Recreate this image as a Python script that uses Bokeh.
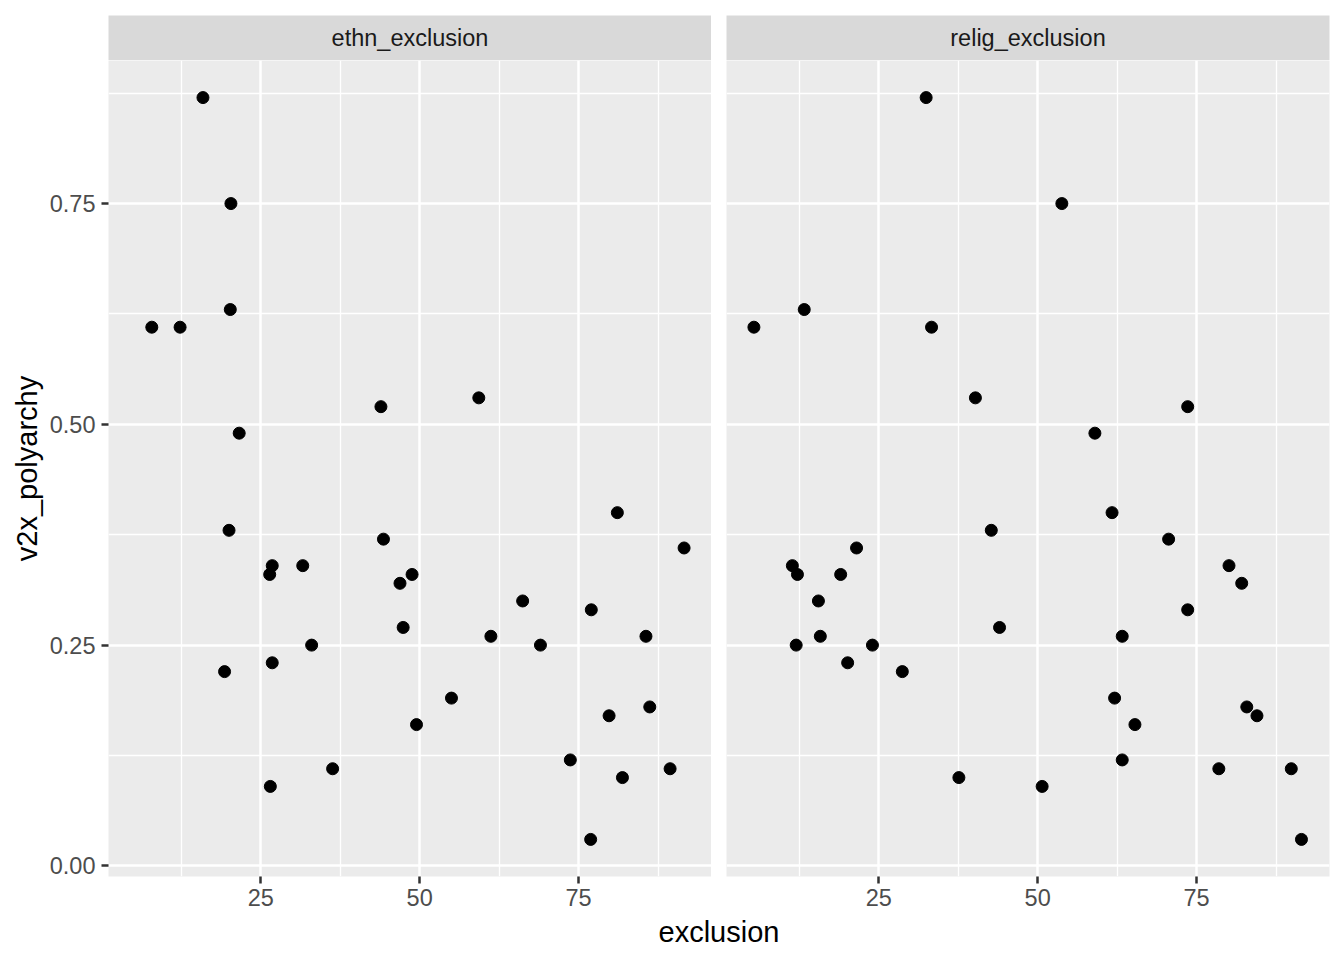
from bokeh.plotting import figure
from bokeh.layouts import column, row
from bokeh.models import FixedTicker, NumeralTickFormatter, Label, Range1d
from bokeh.embed import file_html
from bokeh.resources import INLINE

# facet names and the points of each facet
facets = ["ethn_exclusion", "relig_exclusion"]

ethn_exclusion = [15.9, 20.3, 20.2, 7.85, 12.3, 43.9, 21.6, 20.0, 44.3, 26.8,
                  26.4, 31.6, 48.8, 46.9, 47.4, 33.0, 26.8, 19.3, 49.5, 36.3,
                  26.5, 59.3, 81.1, 91.6, 66.2, 77.0, 61.2, 69.0, 85.6, 55.0,
                  79.8, 86.2, 73.7, 81.9, 89.4, 76.9]
ethn_polyarchy = [0.87, 0.75, 0.63, 0.61, 0.61, 0.52, 0.49, 0.38, 0.37, 0.34,
                  0.33, 0.34, 0.33, 0.32, 0.27, 0.25, 0.23, 0.22, 0.16, 0.11,
                  0.09, 0.53, 0.40, 0.36, 0.30, 0.29, 0.26, 0.25, 0.26, 0.19,
                  0.17, 0.18, 0.12, 0.10, 0.11, 0.03]

relig_exclusion = [32.45, 5.35, 13.27, 33.3, 40.2, 53.8, 59.0, 73.6, 42.7, 21.5,
                   11.4, 12.2, 19.0, 15.5, 44.0, 15.8, 12.0, 24.0, 20.1, 28.7,
                   37.6, 61.7, 70.6, 80.1, 82.1, 73.6, 63.3, 62.1, 65.3, 82.9,
                   84.5, 63.3, 78.5, 89.9, 50.7, 91.5]
relig_polyarchy = [0.87, 0.61, 0.63, 0.61, 0.53, 0.75, 0.49, 0.52, 0.38, 0.36,
                   0.34, 0.33, 0.33, 0.30, 0.27, 0.26, 0.25, 0.25, 0.23, 0.22,
                   0.10, 0.40, 0.37, 0.34, 0.32, 0.29, 0.26, 0.19, 0.16, 0.18,
                   0.17, 0.12, 0.11, 0.11, 0.09, 0.03]

x_ticks = [25, 50, 75]
x_minor = [12.5, 37.5, 62.5, 87.5]
y_ticks = [0.0, 0.25, 0.5, 0.75]
y_minor = [0.125, 0.375, 0.625, 0.875]

FONT = "Liberation Sans"
PANEL_W, PANEL_H = 603, 816


def expand(vals, mult=0.05):
    # ggplot style 5% padding
    lo, hi = min(vals), max(vals)
    pad = (hi - lo) * mult
    return lo - pad, hi + pad


xr = Range1d(*expand(ethn_exclusion + relig_exclusion))
yr = Range1d(*expand(ethn_polyarchy + relig_polyarchy))


def strip(name, left, right):
    s = figure(
        frame_width=PANEL_W,
        frame_height=45,
        x_range=(0, 1),
        y_range=(0, 1),
        x_axis_location=None,
        y_axis_location=None,
        min_border_left=left,
        min_border_right=right,
        min_border_top=15,
        min_border_bottom=0,
        background_fill_color="#D9D9D9",
        outline_line_color=None,
        output_backend="svg",
        toolbar_location=None,
    )
    s.grid.visible = False
    s.add_layout(
        Label(
            x=0.5,
            y=0.5,
            text=name,
            text_align="center",
            text_baseline="middle",
            text_font=FONT,
            text_font_size="23.5px",
            text_color="#1A1A1A",
        )
    )
    return s


def panel(xs, ys, with_yaxis):
    p = figure(
        frame_width=PANEL_W,
        frame_height=PANEL_H,
        x_range=xr,
        y_range=yr,
        y_axis_location="left" if with_yaxis else None,
        min_border_left=108 if with_yaxis else 15,
        min_border_right=0 if with_yaxis else 15,
        min_border_top=0,
        min_border_bottom=36,
        background_fill_color="#EBEBEB",
        outline_line_color=None,
        output_backend="svg",
        toolbar_location=None,
    )
    p.xgrid.ticker = FixedTicker(ticks=x_ticks, minor_ticks=x_minor)
    p.ygrid.ticker = FixedTicker(ticks=y_ticks, minor_ticks=y_minor)
    for g in (p.xgrid, p.ygrid):
        g.grid_line_color = "white"
        g.grid_line_width = 2.5
        g.minor_grid_line_color = "white"
        g.minor_grid_line_width = 1.3

    axes = [p.xaxis[0]]
    p.xaxis.ticker = FixedTicker(ticks=x_ticks)
    if with_yaxis:
        p.yaxis.ticker = FixedTicker(ticks=y_ticks)
        p.yaxis.formatter = NumeralTickFormatter(format="0.00")
        p.yaxis.axis_label = "v2x_polyarchy"
        p.yaxis.axis_label_text_font = FONT
        p.yaxis.axis_label_text_font_size = "29px"
        p.yaxis.axis_label_text_font_style = "normal"
        p.yaxis.axis_label_text_color = "black"
        p.yaxis.axis_label_standoff = 4
        axes.append(p.yaxis[0])
    for ax in axes:
        ax.axis_line_color = None
        ax.major_tick_line_color = "#333333"
        ax.major_tick_line_width = 2.5
        ax.major_tick_in = 0
        ax.major_tick_out = 7
        ax.minor_tick_line_color = None
        ax.major_label_text_font = FONT
        ax.major_label_text_font_size = "23.5px"
        ax.major_label_text_color = "#4D4D4D"
    p.xaxis.major_label_standoff = 5
    if with_yaxis:
        p.yaxis.major_label_standoff = 6

    p.scatter(xs, ys, size=12, color="black")
    return p


strip_l = strip(facets[0], 108, 0)
strip_r = strip(facets[1], 15, 15)
panel_l = panel(ethn_exclusion, ethn_polyarchy, True)
panel_r = panel(relig_exclusion, relig_polyarchy, False)

# shared x title, centred under both panels
xlab = figure(
    frame_width=1344,
    frame_height=40,
    x_range=(0, 1344),
    y_range=(0, 40),
    x_axis_location=None,
    y_axis_location=None,
    min_border=0,
    outline_line_color=None,
    output_backend="svg",
    toolbar_location=None,
)
xlab.grid.visible = False
xlab.add_layout(
    Label(
        x=718.5,
        y=21,
        text="exclusion",
        text_align="center",
        text_baseline="middle",
        text_font=FONT,
        text_font_size="29px",
        text_color="black",
    )
)

layout = column(row(strip_l, strip_r), row(panel_l, panel_r), xlab)

open("out.html", "w").write(file_html(layout, INLINE))
